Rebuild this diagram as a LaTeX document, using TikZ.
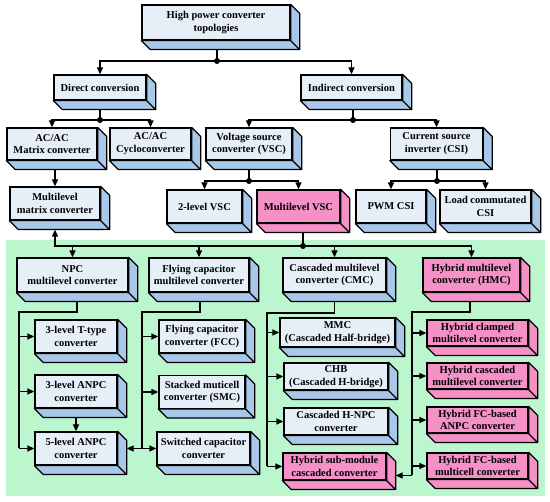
\documentclass[tikz,border=0pt]{standalone}
\usepackage{fontspec}
\setmainfont{Liberation Serif}
\usetikzlibrary{arrows.meta}
\definecolor{face}{HTML}{E6EEF8}
\definecolor{side}{HTML}{A9C7E9}
\definecolor{rose}{HTML}{F591C7}
\definecolor{mint}{HTML}{BBF6CF}
\pgfdeclarelayer{back}
\pgfdeclarelayer{wires}
\pgfsetlayers{back,wires,main}
\tikzset{blk/.style={draw,line width=1.25pt,fill=face,inner sep=1pt,align=center,font=\bfseries\fontsize{10.5}{12.8}\selectfont,minimum height=33pt},
hyb/.style={blk,fill=rose},
slab/.style={draw,line width=1.25pt,fill=side,line join=round},
link/.style={draw,line width=1.25pt,-{Triangle[length=7pt,width=6pt]}},
wire/.style={draw,line width=1.25pt}}

\begin{document}
\begin{tikzpicture}[x=1pt,y=-1pt]
\useasboundingbox (0,0) rectangle (550,502);
\begin{pgfonlayer}{back}
\fill[mint] (6,240) rectangle (545,496);
\end{pgfonlayer}
% upper tree
\node[blk,minimum width=148pt,minimum height=35pt] (hp) at (216,22.5) {High power converter\\topologies};
\node[blk,minimum width=92pt,minimum height=25pt] (dc) at (100,87.5) {Direct conversion};
\node[blk,minimum width=101pt,minimum height=25pt] (ic) at (351.5,87.5) {Indirect conversion};
\node[blk,minimum width=90pt,minimum height=32pt] (acm) at (52,144) {AC/AC\\Matrix converter};
\node[blk,minimum width=81pt,minimum height=32pt] (cyc) at (150.5,144) {AC/AC\\Cycloconverter};
\node[blk,minimum width=86pt,minimum height=32pt] (vsc) at (249,144) {Voltage source\\converter (VSC)};
\node[blk,minimum width=92pt,minimum height=32pt] (csi) at (436.5,144) {Current source\\inverter (CSI)};
\node[blk,minimum width=90pt] (mmx) at (55,203.5) {Multilevel\\matrix converter};
\node[blk,minimum width=75pt] (lvl2) at (204.5,206.5) {2-level VSC};
\node[hyb,minimum width=83pt] (mvsc) at (298.5,206.5) {Multilevel VSC};
\node[blk,minimum width=70pt] (pwm) at (391,206.5) {PWM CSI};
\node[blk,minimum width=91pt] (lcc) at (485.5,206.5) {Load commutated\\CSI};
% multilevel families
\node[blk,minimum width=111pt,minimum height=34pt] (npc) at (72.5,275) {NPC\\multilevel converter};
\node[blk,minimum width=100pt,minimum height=34pt] (fcm) at (199,275) {Flying capacitor\\multilevel converter};
\node[blk,minimum width=103pt,minimum height=34pt] (cmc) at (334.5,275) {Cascaded multilevel\\converter (CMC)};
\node[hyb,minimum width=97pt,minimum height=34pt] (hmc) at (471.5,275) {Hybrid multilevel\\converter (HMC)};
\node[blk,minimum width=82pt] (tt) at (76,336.5) {3-level T-type\\converter};
\node[blk,minimum width=82pt] (anpc3) at (76,391.5) {3-level ANPC\\converter};
\node[blk,minimum width=82pt] (anpc5) at (76,448.5) {5-level ANPC\\converter};
\node[blk,minimum width=86pt] (fcc) at (202,336.5) {Flying capacitor\\converter (FCC)};
\node[blk,minimum width=86pt] (smc) at (202,392) {Stacked muticell\\converter (SMC)};
\node[blk,minimum width=93pt] (swc) at (203.5,448.5) {Switched capacitor\\converter};
\node[blk,minimum width=115pt,minimum height=29pt] (mmc) at (337.5,332.5) {MMC\\(Cascaded Half-bridge)};
\node[blk,minimum width=104pt,minimum height=27pt] (chb) at (336,376.5) {CHB\\(Cascaded H-bridge)};
\node[blk,minimum width=104pt,minimum height=27pt] (hnpc) at (336,421.5) {Cascaded H-NPC\\converter};
\node[hyb,minimum width=103pt,minimum height=27pt] (hsm) at (334.5,466.5) {Hybrid sub-module\\cascaded converter};
\node[hyb,minimum width=101pt,minimum height=26pt] (hcl) at (477.5,333) {Hybrid clamped\\multilevel converter};
\node[hyb,minimum width=101pt,minimum height=26pt] (hcas) at (477.5,376) {Hybrid cascaded\\multilevel converter};
\node[hyb,minimum width=101pt,minimum height=26pt] (hfca) at (477.5,420) {Hybrid FC-based\\ANPC converter};
\node[hyb,minimum width=101pt,minimum height=26pt] (hfcm) at (477.5,466) {Hybrid FC-based\\multicell converter};
% 3d sides
\foreach \n in {hp,dc,ic,acm,cyc,vsc,csi,mmx,lvl2,pwm,lcc,npc,fcm,cmc,tt,anpc3,anpc5,fcc,smc,swc,mmc,chb,hnpc}
  \draw[slab] (\n.south west) -- ++(9pt,-9pt) -| ([shift={(9pt,-9pt)}]\n.north east) -- (\n.north east) -- (\n.south east) -- cycle (\n.south east) -- ++(9pt,-9pt);
\foreach \n in {mvsc,hmc,hsm,hcl,hcas,hfca,hfcm}
  \draw[slab,fill=rose] (\n.south west) -- ++(9pt,-9pt) -| ([shift={(9pt,-9pt)}]\n.north east) -- (\n.north east) -- (\n.south east) -- cycle (\n.south east) -- ++(9pt,-9pt);
\begin{pgfonlayer}{wires}
\coordinate (j0) at (217,61);
\coordinate (j1) at (100,120);
\coordinate (j2) at (353,120);
\coordinate (j3) at (249,181);
\coordinate (j4) at (437,181);
\coordinate (j5) at (303,246);
\draw[wire] (hp.center -| j0) -- (j0);
\draw[link] (j0) -| (dc.north);
\draw[link] (j0) -| (ic.north);
\draw[wire] (dc.center -| j1) -- (j1);
\foreach \n in {acm,cyc} \draw[link] (j1) -| (\n.north);
\draw[wire] (ic.center -| j2) -- (j2);
\foreach \n in {vsc,csi} \draw[link] (j2) -| (\n.north);
\draw[link] (acm.center -| mmx.north) -- (mmx.north);
\draw[wire] (vsc.center -| j3) -- (j3);
\foreach \n in {lvl2,mvsc} \draw[link] (j3) -| (\n.north);
\draw[wire] (csi.center -| j4) -- (j4);
\foreach \n in {pwm,lcc} \draw[link] (j4) -| (\n.north);
\draw[wire] (mvsc.center -| j5) -- (j5);
\draw[link] (j5) -| ([yshift=-9pt]mmx.south);
\foreach \n in {npc,fcm,cmc,hmc} \draw[link] (j5) -| (\n.north);
\foreach \j in {j0,j1,j2,j3,j4,j5} \fill (\j) circle (3pt);
% NPC branch
\coordinate (k1) at (19,312);
\draw[wire] ([xshift=4.5pt]npc.center) |- (k1) -- (k1 |- anpc5.west);
\foreach \n in {tt,anpc3,anpc5} \draw[link] (k1 |- \n.west) -- (\n.west);
\draw[link] (anpc3) -- (anpc5);
% flying capacitor branch
\coordinate (k2) at (142,312);
\draw[wire] ([xshift=1pt]fcm.center) |- (k2) -- (k2 |- swc.west);
\foreach \n in {fcc,smc,swc} \draw[link] (k2 |- \n.west) -- (\n.west);
\draw[link] (k2 |- swc.west) -- ([xshift=9pt]anpc5.east);
% cascaded branch
\coordinate (k3) at (267,313);
\draw[wire] (cmc.center) |- (k3) -- (k3 |- hsm.west);
\foreach \n in {mmc,chb,hnpc,hsm} \draw[link] (k3 |- \n.west) -- (\n.west);
% hybrid branch
\coordinate (k4) at (412,312);
\coordinate (hsmb) at ([shift={(9pt,-9pt)}]hsm.east);
\draw[wire] ([xshift=-1.5pt]hmc.center) |- (k4) -- (k4 |- hsmb);
\foreach \n in {hcl,hcas,hfca,hfcm} \draw[link] (k4 |- \n.west) -- (\n.west);
\draw[link] (k4 |- hsmb) -- (hsmb);
\end{pgfonlayer}
\end{tikzpicture}
\end{document}
